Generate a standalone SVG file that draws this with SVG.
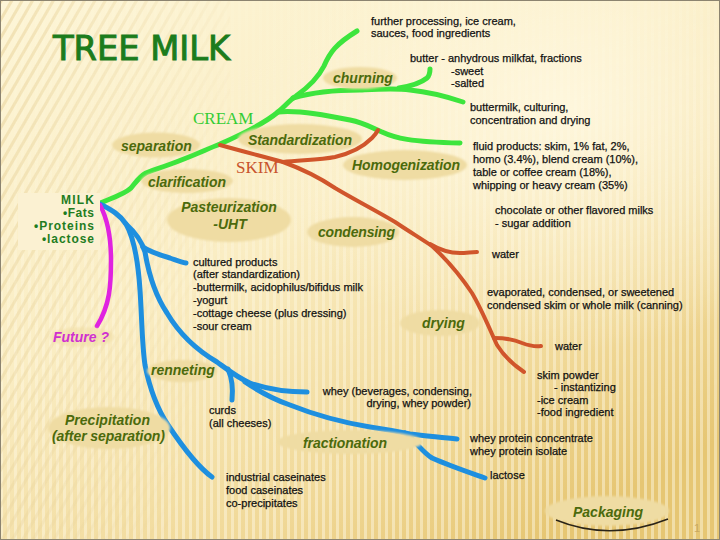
<svg xmlns="http://www.w3.org/2000/svg" width="720" height="540" viewBox="0 0 720 540">
<defs>
<linearGradient id="bg" x1="0" y1="0" x2="0.75" y2="1">
<stop offset="0" stop-color="#FDF5D7"/>
<stop offset="0.45" stop-color="#FAEDC3"/>
<stop offset="0.8" stop-color="#F0D897"/>
<stop offset="1" stop-color="#E6C673"/>
</linearGradient>
<radialGradient id="hl" cx="0.78" cy="0.2" r="0.45">
<stop offset="0" stop-color="#FFF8E0" stop-opacity="0.9"/>
<stop offset="1" stop-color="#FFF8E0" stop-opacity="0"/>
</radialGradient>
<pattern id="vs" width="7" height="10" patternUnits="userSpaceOnUse">
<rect width="3" height="10" fill="#FFFBEA" opacity="0.45"/>
</pattern>
<pattern id="ds" width="9" height="9" patternUnits="userSpaceOnUse" patternTransform="rotate(30)">
<rect width="3" height="9" fill="#E9D49C" opacity="0.6"/>
</pattern>
<linearGradient id="vm" x1="0" y1="0" x2="0.3" y2="1">
<stop offset="0.2" stop-color="#fff" stop-opacity="0.2"/>
<stop offset="0.6" stop-color="#fff" stop-opacity="0.8"/>
<stop offset="1" stop-color="#fff" stop-opacity="1"/>
</linearGradient>
<linearGradient id="dm" x1="0" y1="0" x2="1" y2="0.4">
<stop offset="0" stop-color="#fff" stop-opacity="1"/>
<stop offset="1" stop-color="#fff" stop-opacity="0"/>
</linearGradient>
<mask id="vmask"><rect width="720" height="540" fill="url(#vm)"/></mask>
<mask id="dmask"><rect x="0" y="0" width="230" height="540" fill="url(#dm)"/></mask>
<filter id="soft" x="-10%" y="-20%" width="120%" height="140%"><feGaussianBlur stdDeviation="1.3"/></filter>
<style>
.el{fill:#EFDCA3;filter:url(#soft)}
.lb{font-family:"Liberation Sans",Arial,sans-serif;font-weight:bold;font-style:italic;font-size:14px;fill:#4B6A0C}
.sm{font-family:"Liberation Sans",Arial,sans-serif;font-size:11px;fill:#111;stroke:#111;stroke-width:0.25}
.g{fill:none;stroke:#3DE53D;stroke-width:5;stroke-linecap:round}
.r{fill:none;stroke:#D0552B;stroke-width:4;stroke-linecap:round}
.b{fill:none;stroke:#1E8FDF;stroke-width:5;stroke-linecap:round}
.m{fill:none;stroke:#E022E0;stroke-width:4.5;stroke-linecap:round}
.mk{font-family:"Liberation Sans",Arial,sans-serif;font-weight:bold;font-size:12px;fill:#1F7D1F;text-anchor:end}
</style>
</defs>

<rect width="720" height="540" fill="url(#bg)"/>
<rect width="720" height="540" fill="url(#hl)"/>
<rect width="720" height="540" fill="url(#vs)" mask="url(#vmask)"/>
<rect width="720" height="540" fill="url(#ds)" mask="url(#dmask)"/>
<rect x="0.5" y="0.5" width="719" height="539" fill="none" stroke="#8C8470" stroke-width="1"/>

<text x="53" y="60" font-family="DejaVu Sans,Verdana,sans-serif" font-size="34" fill="#1C7C1C" stroke="#1C7C1C" stroke-width="1" textLength="177" lengthAdjust="spacingAndGlyphs">TREE MILK</text>

<g id="connectors">
<path class="g" d="M100,203 C112,198 125,194 131,188 C136,182 139,177 146,173 C155,169 160,168 168,165 C190,157 205,150 220,144 C245,133 265,123 278,112 C286,105 290,100 296,96 C310,86 318,78 324,66 C330,52 336,44 357,31"/>
<path class="g" d="M293,98 C310,93 335,90 360,90 C380,89 395,88 410,90 C430,92 445,96 463,102"/>
<path class="g" d="M399,88 C412,86 422,82 427,78 C430,75 430,72 430,69"/>
<path class="g" d="M278,112 C300,110 330,116 350,120 C365,123 372,128 382,132 C395,138 410,142 460,143"/>
<path class="r" d="M220,145 C245,152 265,157 283,162 C305,170 320,178 335,188 C355,200 375,210 395,222 C410,232 420,238 432,246 C445,258 460,275 472,293 C482,310 490,330 497,345 C505,358 515,366 524,372"/>
<path class="r" d="M430,244 C440,250 450,253 460,253 C466,253 472,252 477,252"/>
<path class="r" d="M494,338 C505,338 515,340 522,343 C530,346 535,347 541,346"/>
<path class="r" d="M283,162 C300,160 320,160 335,157 C352,153 365,145 372,138 C375,135 377,132 378,130"/>
<path class="b" d="M100,204 C112,210 120,215 126,224 C134,238 138,260 140,290 C142,320 142,345 145,365 C150,390 158,410 168,425 C178,440 195,465 212,477"/>
<path class="b" d="M126,224 C135,232 142,242 145,252 C148,270 155,295 167,313 C180,335 200,352 217,362 C228,370 238,378 250,383 C270,390 290,392 307,392"/>
<path class="b" d="M143,247 C150,252 160,255 170,258 C176,260 181,262 186,263"/>
<path class="b" d="M228,369 C232,378 233,390 232,400"/>
<path class="b" d="M245,382 C260,392 275,400 290,405 C315,415 340,422 370,427 C390,430 400,432 410,434 C425,436 440,437 457,439"/>
<path class="b" d="M405,433 C415,440 422,452 432,458 C450,466 468,472 485,478"/>
<path class="m" d="M100,205 C108,220 111,240 111,260 C111,285 110,305 97,326"/>
</g>

<g id="milk">
<rect x="18" y="193" width="82" height="57" fill="#FBF1D2"/>
<text class="mk" x="94" y="204" textLength="33">MILK</text>
<text class="mk" x="94" y="217" textLength="31">•Fats</text>
<text class="mk" x="94" y="230" textLength="60">•Proteins</text>
<text class="mk" x="94" y="243" textLength="52">•lactose</text>
</g>

<g id="cream"><text x="193" y="124" font-family="Liberation Serif,Times New Roman,serif" font-size="17" fill="#33CC33">CREAM</text></g>
<g id="skim"><text x="236" y="173" font-family="Liberation Serif,Times New Roman,serif" font-size="17" fill="#C8542C">SKIM</text></g>

<g id="separation"><ellipse class="el" cx="156" cy="145" rx="44" ry="12.5"/><text class="lb" x="121" y="151">separation</text></g>
<g id="standardization"><ellipse class="el" cx="300" cy="139" rx="62" ry="15"/><text class="lb" x="248" y="145" textLength="104">Standardization</text></g>
<g id="churning"><ellipse class="el" cx="360" cy="78" rx="37" ry="11"/><text class="lb" x="333" y="83">churning</text></g>
<g id="homogenization"><ellipse class="el" cx="405" cy="165" rx="62" ry="15"/><text class="lb" x="352" y="170" textLength="108">Homogenization</text></g>
<g id="clarification"><ellipse class="el" cx="187" cy="181" rx="46" ry="12"/><text class="lb" x="148" y="187" textLength="78">clarification</text></g>
<g id="pasteurization"><ellipse class="el" cx="229" cy="220" rx="62" ry="22"/><text class="lb" x="229" y="212" text-anchor="middle">Pasteurization</text><text class="lb" x="230" y="229" text-anchor="middle">-UHT</text></g>
<g id="condensing"><ellipse class="el" cx="353" cy="232" rx="46" ry="15"/><text class="lb" x="318" y="237" textLength="77">condensing</text></g>
<g id="drying"><ellipse class="el" cx="440" cy="323" rx="40" ry="13"/><text class="lb" x="422" y="328">drying</text></g>
<g id="future"><ellipse class="el" cx="82" cy="337" rx="33" ry="10" opacity="0.5"/><text class="lb" x="53" y="342" style="fill:#D030D0">Future ?</text></g>
<g id="renneting"><ellipse class="el" cx="182" cy="371" rx="35" ry="11"/><text class="lb" x="151" y="375">renneting</text></g>
<g id="precipitation"><ellipse class="el" cx="109" cy="428" rx="61" ry="21"/><text class="lb" x="65" y="425" textLength="85">Precipitation</text><text class="lb" x="52" y="441" textLength="113">(after separation)</text></g>
<g id="fractionation"><ellipse class="el" cx="350" cy="442" rx="73" ry="12"/><text class="lb" x="303" y="448" textLength="84">fractionation</text></g>
<g id="packaging"><ellipse class="el" cx="607" cy="511" rx="62" ry="15"/><path d="M556,520 Q610,542 668,519" fill="none" stroke="#2A2418" stroke-width="1.4"/><text class="lb" x="573" y="517">Packaging</text></g>

<g id="products">
<text class="sm" x="371" y="25">further processing, ice cream,</text>
<text class="sm" x="371" y="37">sauces, food ingredients</text>
<text class="sm" x="410" y="62">butter - anhydrous milkfat, fractions</text>
<text class="sm" x="451" y="75">-sweet</text>
<text class="sm" x="451" y="87">-salted</text>
<text class="sm" x="470" y="111">buttermilk, culturing,</text>
<text class="sm" x="470" y="124">concentration and drying</text>
<text class="sm" x="473" y="150">fluid products: skim, 1% fat, 2%,</text>
<text class="sm" x="473" y="163">homo (3.4%), blend cream (10%),</text>
<text class="sm" x="473" y="176">table or coffee cream (18%),</text>
<text class="sm" x="473" y="189">whipping or heavy cream (35%)</text>
<text class="sm" x="495" y="214">chocolate or other flavored milks</text>
<text class="sm" x="495" y="227">- sugar addition</text>
<text class="sm" x="492" y="258">water</text>
<text class="sm" x="487" y="296">evaporated, condensed, or sweetened</text>
<text class="sm" x="487" y="309">condensed skim or whole milk (canning)</text>
<text class="sm" x="555" y="350">water</text>
<text class="sm" x="537" y="379">skim powder</text>
<text class="sm" x="554" y="391">- instantizing</text>
<text class="sm" x="537" y="404">-ice cream</text>
<text class="sm" x="537" y="416">-food ingredient</text>
<text class="sm" x="193" y="266">cultured products</text>
<text class="sm" x="193" y="278">(after standardization)</text>
<text class="sm" x="193" y="291">-buttermilk, acidophilus/bifidus milk</text>
<text class="sm" x="193" y="304">-yogurt</text>
<text class="sm" x="193" y="317">-cottage cheese (plus dressing)</text>
<text class="sm" x="193" y="330">-sour cream</text>
<text class="sm" x="472" y="395" text-anchor="end">whey (beverages, condensing,</text>
<text class="sm" x="471" y="407" text-anchor="end">drying, whey powder)</text>
<text class="sm" x="209" y="414">curds</text>
<text class="sm" x="209" y="427">(all cheeses)</text>
<text class="sm" x="470" y="442">whey protein concentrate</text>
<text class="sm" x="470" y="455">whey protein isolate</text>
<text class="sm" x="490" y="479">lactose</text>
<text class="sm" x="226" y="481">industrial caseinates</text>
<text class="sm" x="226" y="494">food caseinates</text>
<text class="sm" x="226" y="507">co-precipitates</text>
</g>
<text x="694" y="532" font-family="Liberation Sans,Arial,sans-serif" font-size="11" fill="#C9A860">1</text>
</svg>
